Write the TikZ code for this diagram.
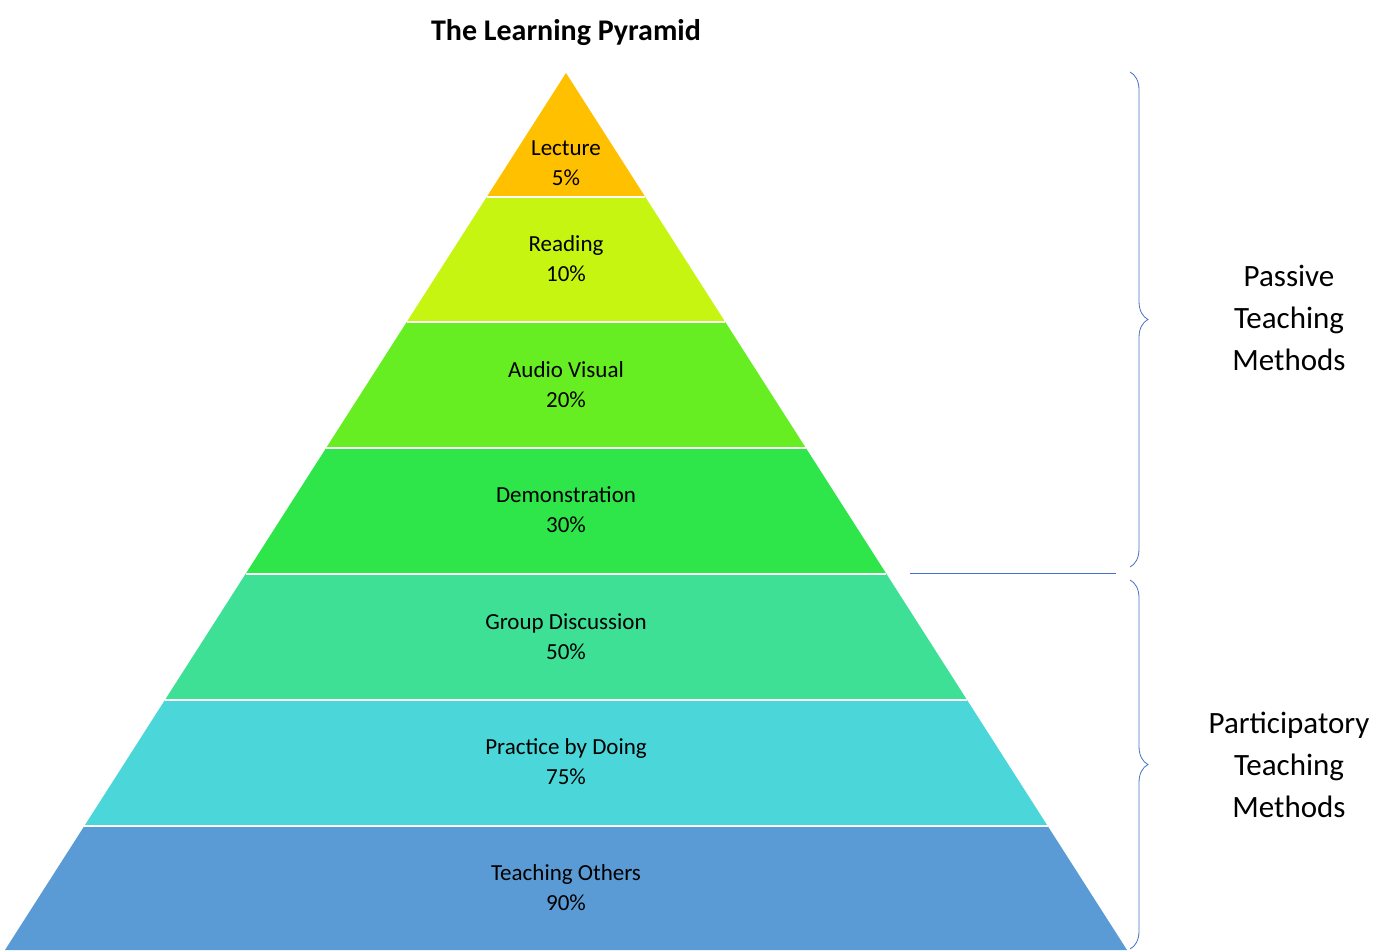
\documentclass[tikz,border=0pt]{standalone}
\usepackage{fontspec}
\setmainfont{Carlito}
\usetikzlibrary{decorations.pathreplacing}
\definecolor{cA}{HTML}{FFC000}
\definecolor{cB}{HTML}{C5F511}
\definecolor{cC}{HTML}{66EE22}
\definecolor{cD}{HTML}{2EE64A}
\definecolor{cE}{HTML}{3EE096}
\definecolor{cF}{HTML}{4BD6DA}
\definecolor{cG}{HTML}{5B9BD5}
\definecolor{brc}{HTML}{4472C4}
\tikzset{
  band/.style={draw=white, line width=1.5pt},
  lbl/.style={align=center, font=\fontsize{23}{30}\selectfont},
  side/.style={align=center, font=\fontsize{31}{42}\selectfont},
  brace/.style={draw=brc, line width=0.8pt, decorate, decoration={brace, amplitude=18pt, aspect=0.5}}
}
\begin{document}
\begin{tikzpicture}[x=1pt,y=-1pt]
\useasboundingbox (0,0) rectangle (1400,952);
% x of left edge at height y: 566-0.64*(y-73)
\def\lx#1{566-0.6397*(#1-73)}
\def\rx#1{566+0.6397*(#1-73)}
\foreach \ya/\yb/\c in {73/197/cA,197/322/cB,322/448/cC,448/574/cD,574/700/cE,700/826/cF,826/950/cG}{
  \fill[\c] ({\lx{\ya}},\ya) -- ({\rx{\ya}},\ya) -- ({\rx{\yb}},\yb) -- ({\lx{\yb}},\yb) -- cycle;
}
\foreach \y in {197,322,448,574,700,826}{
  \draw[white, line width=1.5pt] ({\lx{\y}},\y) -- ({\rx{\y}},\y);
}
\node[font=\fontsize{30}{36}\selectfont\bfseries] (title) at (566,33) {The Learning Pyramid};
\node[lbl] (l1) at (566,163) {Lecture\\5\%};
\node[lbl] (l2) at (566,259) {Reading\\10\%};
\node[lbl] (l3) at (566,385) {Audio Visual\\20\%};
\node[lbl] (l4) at (566,510) {Demonstration\\30\%};
\node[lbl] (l5) at (566,637) {Group Discussion\\50\%};
\node[lbl] (l6) at (566,762) {Practice by Doing\\75\%};
\node[lbl] (l7) at (566,888) {Teaching Others\\90\%};
\coordinate (b1s) at (1130,72);
\coordinate (b1e) at (1130,567);
\coordinate (b2s) at (1130,580);
\coordinate (b2e) at (1130,949);
\draw[brace] (b1s) -- (b1e);
\draw[brace] (b2s) -- (b2e);
\coordinate (s1) at (910,573);
\coordinate (s2) at (1116,573);
\draw[brc, line width=0.8pt] (s1) -- (s2);
\node[side] (p) at (1289,318) {Passive\\Teaching\\Methods};
\node[side] (q) at (1289,765) {Participatory\\Teaching\\Methods};
\end{tikzpicture}
\end{document}
